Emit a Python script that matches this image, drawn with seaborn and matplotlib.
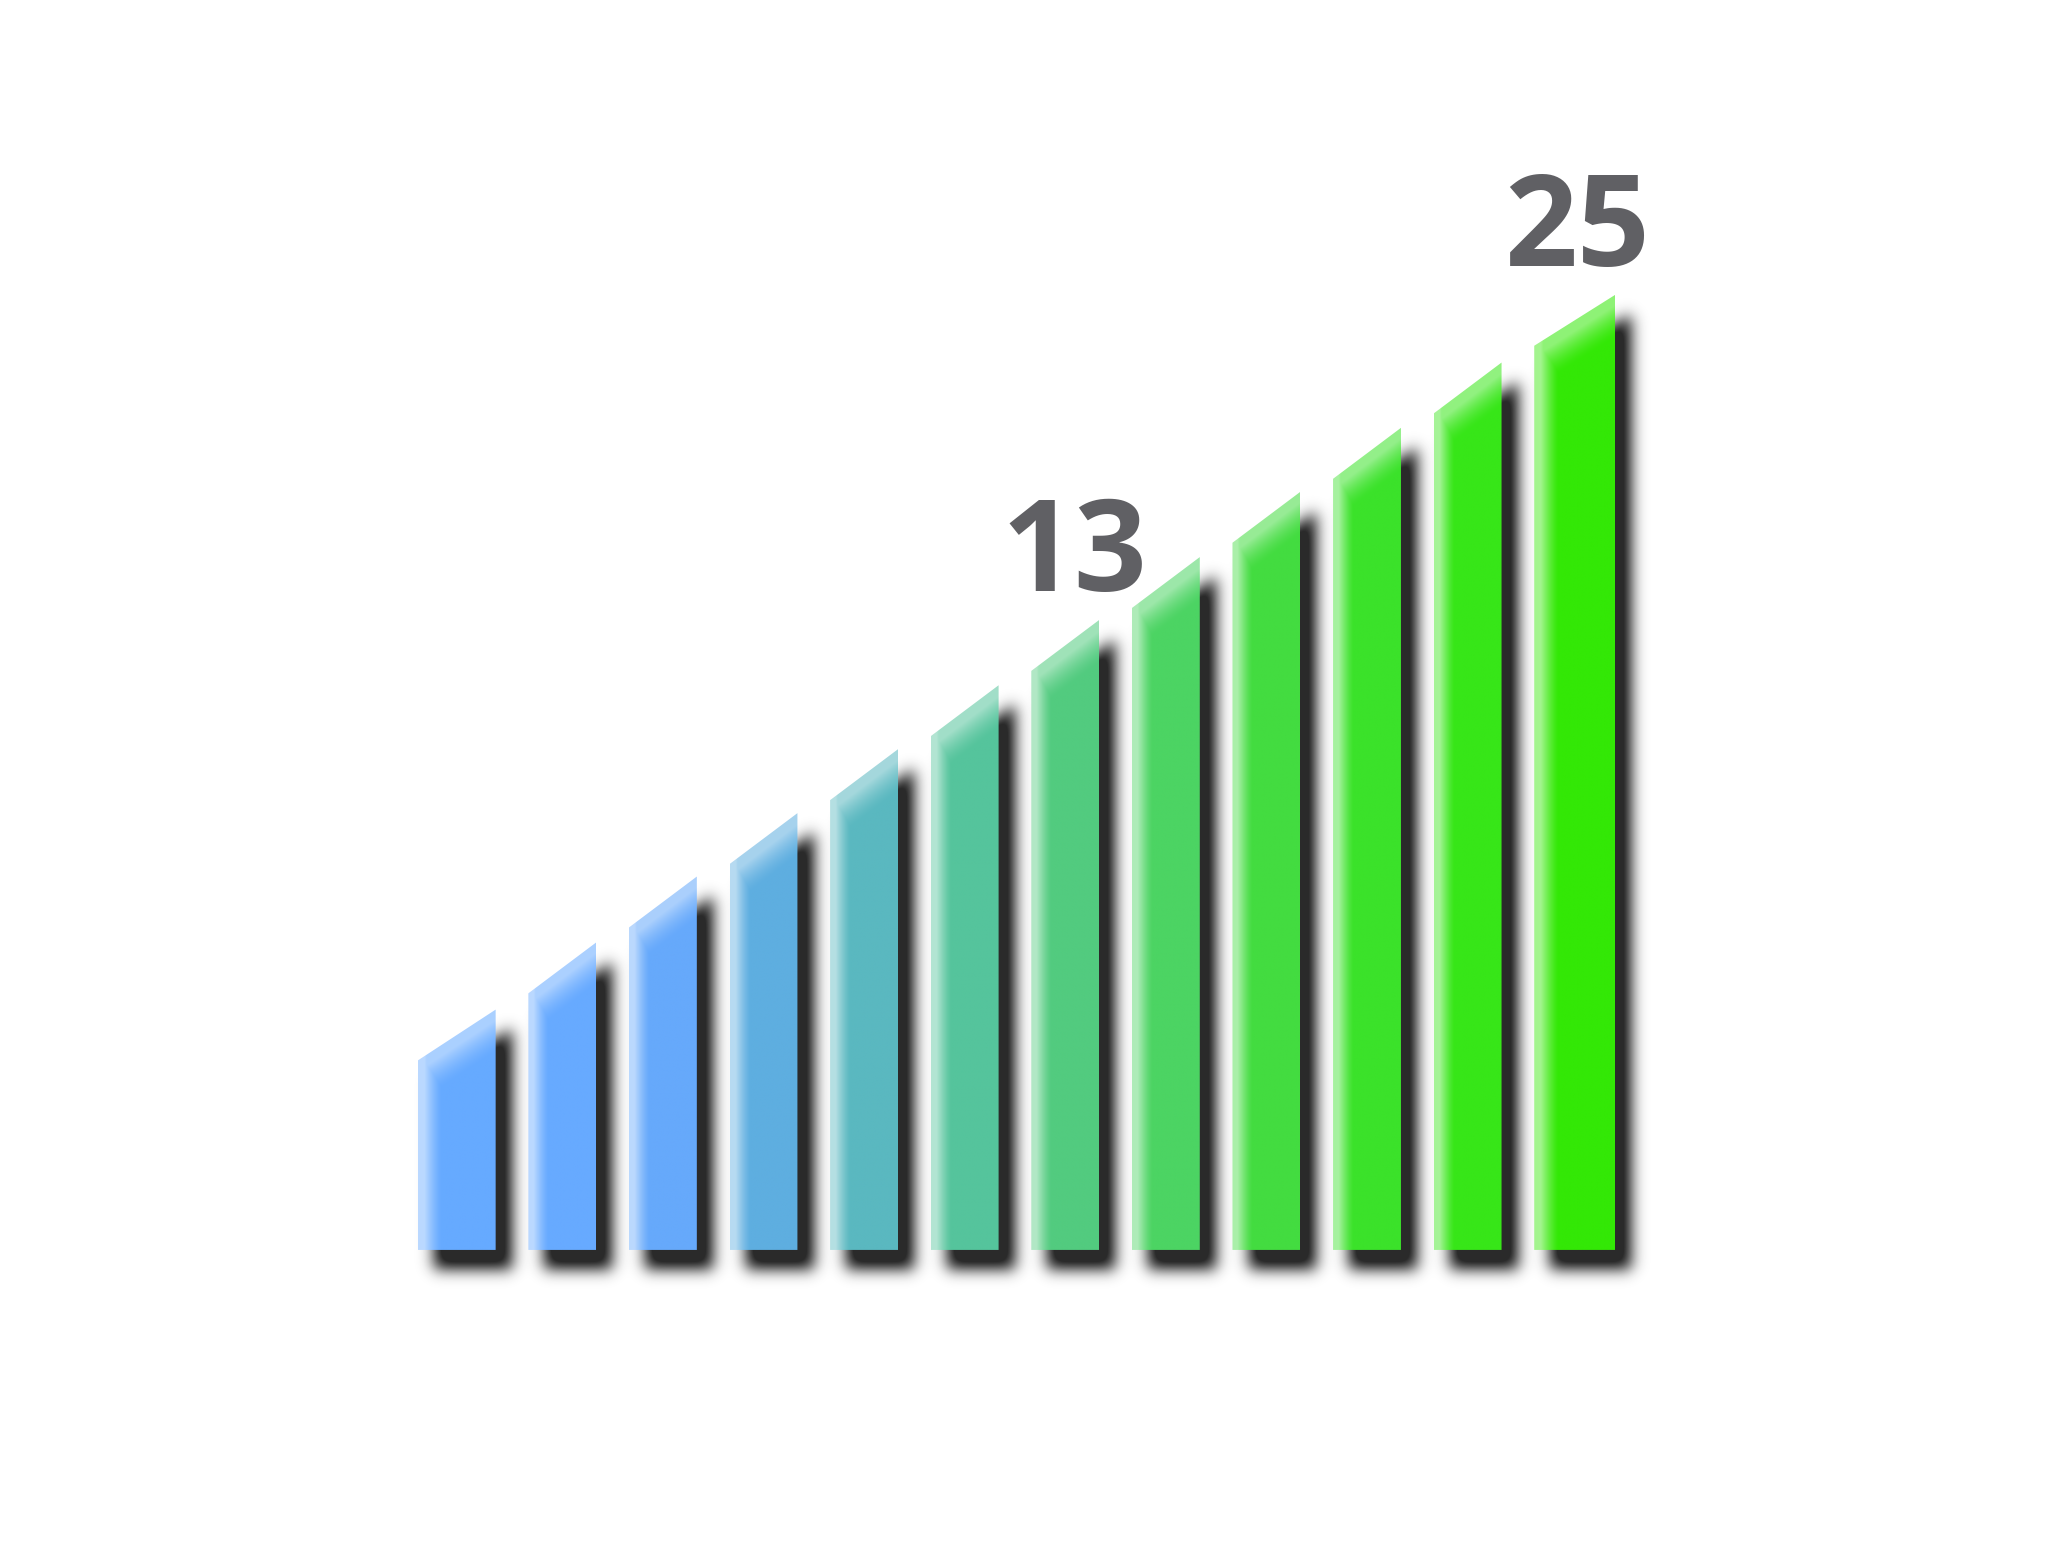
import numpy as np
import matplotlib.pyplot as plt
import seaborn as sns
from matplotlib.colors import to_rgb
from matplotlib.patches import Polygon

# Valeurs (le plancher de l'axe est sous zéro)
categories = [str(i) for i in range(1, 13)]
values = [-1.37, 1.11, 3.54, 5.88, 8.24, 10.60, 13.01, 15.33, 17.74, 20.10, 22.51, 25.01]
labels = ["", "", "", "", "", "", "13", "", "", "", "", "25"]
bar_colors = ["#66aaff", "#67aaff", "#66a9fb", "#5eaee0", "#5ab8c0", "#55c49c",
              "#52cb7f", "#4cd463", "#43dc40", "#3be22a", "#37e618", "#33e806"]
floor = -9.3

sns.set_theme(style="white")
plt.rcParams['font.family'] = ['Open Sans', 'DejaVu Sans']

W, H = 2048, 1558
fig = plt.figure(figsize=(W / 100, H / 100), dpi=100)
fig.patch.set_facecolor('white')
ax = fig.add_axes([0, 0, 1, 1])

heights = [v - floor for v in values]
sns.barplot(x=categories, y=heights, hue=categories, palette=bar_colors,
            saturation=1, width=0.675, legend=False, ax=ax)

xlim = (-4.59, 15.77)
ylim = (-11.37, 46.13)

slant = 0.94          # demi-pente du haut des barres
pad = {0: (-0.10, 0.0), 11: (0.0, 0.13)}   # barres extrêmes un peu plus larges
shapes = []
for i, p in enumerate(sorted(ax.patches, key=lambda q: q.get_x())):
    x0, x1 = p.get_x(), p.get_x() + p.get_width()
    l, r = pad.get(i, (0.0, 0.0))
    x0, x1 = x0 + l, x1 + r
    h = p.get_height()
    base = np.array(to_rgb(p.get_facecolor()))
    p.set_visible(False)
    shapes.append((x0, x1, h - slant, h + slant, base))

# ombre portée floutée
gx = xlim[0] + (np.arange(W) + 0.5) * (xlim[1] - xlim[0]) / W
gy = ylim[0] + (np.arange(H) + 0.5) * (ylim[1] - ylim[0]) / H
XX, YY = np.meshgrid(gx, gy)
mask = np.zeros((H, W))
ox, oy = 0.16, 0.70
for x0, x1, yl, yr, _ in shapes:
    top = yl + (yr - yl) * (XX - ox - x0) / (x1 - x0) - oy
    m = (XX >= x0 + ox) & (XX <= x1 + ox) & (YY >= -oy) & (YY <= top)
    mask[m] = 1.0
k = np.arange(-26, 27)
kern = np.exp(-k ** 2 / (2 * 7.5 ** 2))
kern /= kern.sum()
mask = np.apply_along_axis(lambda row: np.convolve(row, kern, mode='same'), 1, mask)
mask = np.apply_along_axis(lambda col: np.convolve(col, kern, mode='same'), 0, mask)
shadow = np.zeros((H, W, 4))
shadow[..., :3] = 0.12
shadow[..., 3] = np.clip(mask * 1.2, 0, 1) * 0.95
ax.imshow(shadow, extent=(xlim[0], xlim[1], ylim[0], ylim[1]), origin='lower',
          aspect='auto', interpolation='nearest', zorder=1)

# barres avec dégradé et bord clair
for x0, x1, yl, yr, base in shapes:
    poly = Polygon([(x0, 0), (x1, 0), (x1, yr), (x0, yl)], closed=True,
                   facecolor='none', edgecolor='none', transform=ax.transData)
    ax.add_patch(poly)
    nx, ny = 120, 600
    u = np.linspace(0, 1, nx)
    yy = np.linspace(0, yr, ny)
    U, Y = np.meshgrid(u, yy)
    d = yl + (yr - yl) * U - Y
    w_left = 0.55 * np.clip((0.30 - U) / 0.22, 0, 1) ** 1.3
    w_top = 0.45 * np.clip((1.6 - d) / 1.2, 0, 1) ** 1.5
    w = np.maximum(w_left, w_top)[..., None]
    img = base * (1 - w) + w
    im = ax.imshow(img, extent=(x0, x1, 0, yr), origin='lower', aspect='auto',
                   interpolation='bilinear', zorder=3)
    im.set_clip_path(poly)

for i, lab in enumerate(labels):
    if lab:
        ax.text(i + 0.09, heights[i] + 2.0, lab, ha='center', va='baseline',
                fontsize=92, fontweight='bold', color='#606064', zorder=5)

ax.set_xlim(*xlim)
ax.set_ylim(*ylim)
ax.axis('off')

fig.savefig('out.png', dpi=100, facecolor='white')
